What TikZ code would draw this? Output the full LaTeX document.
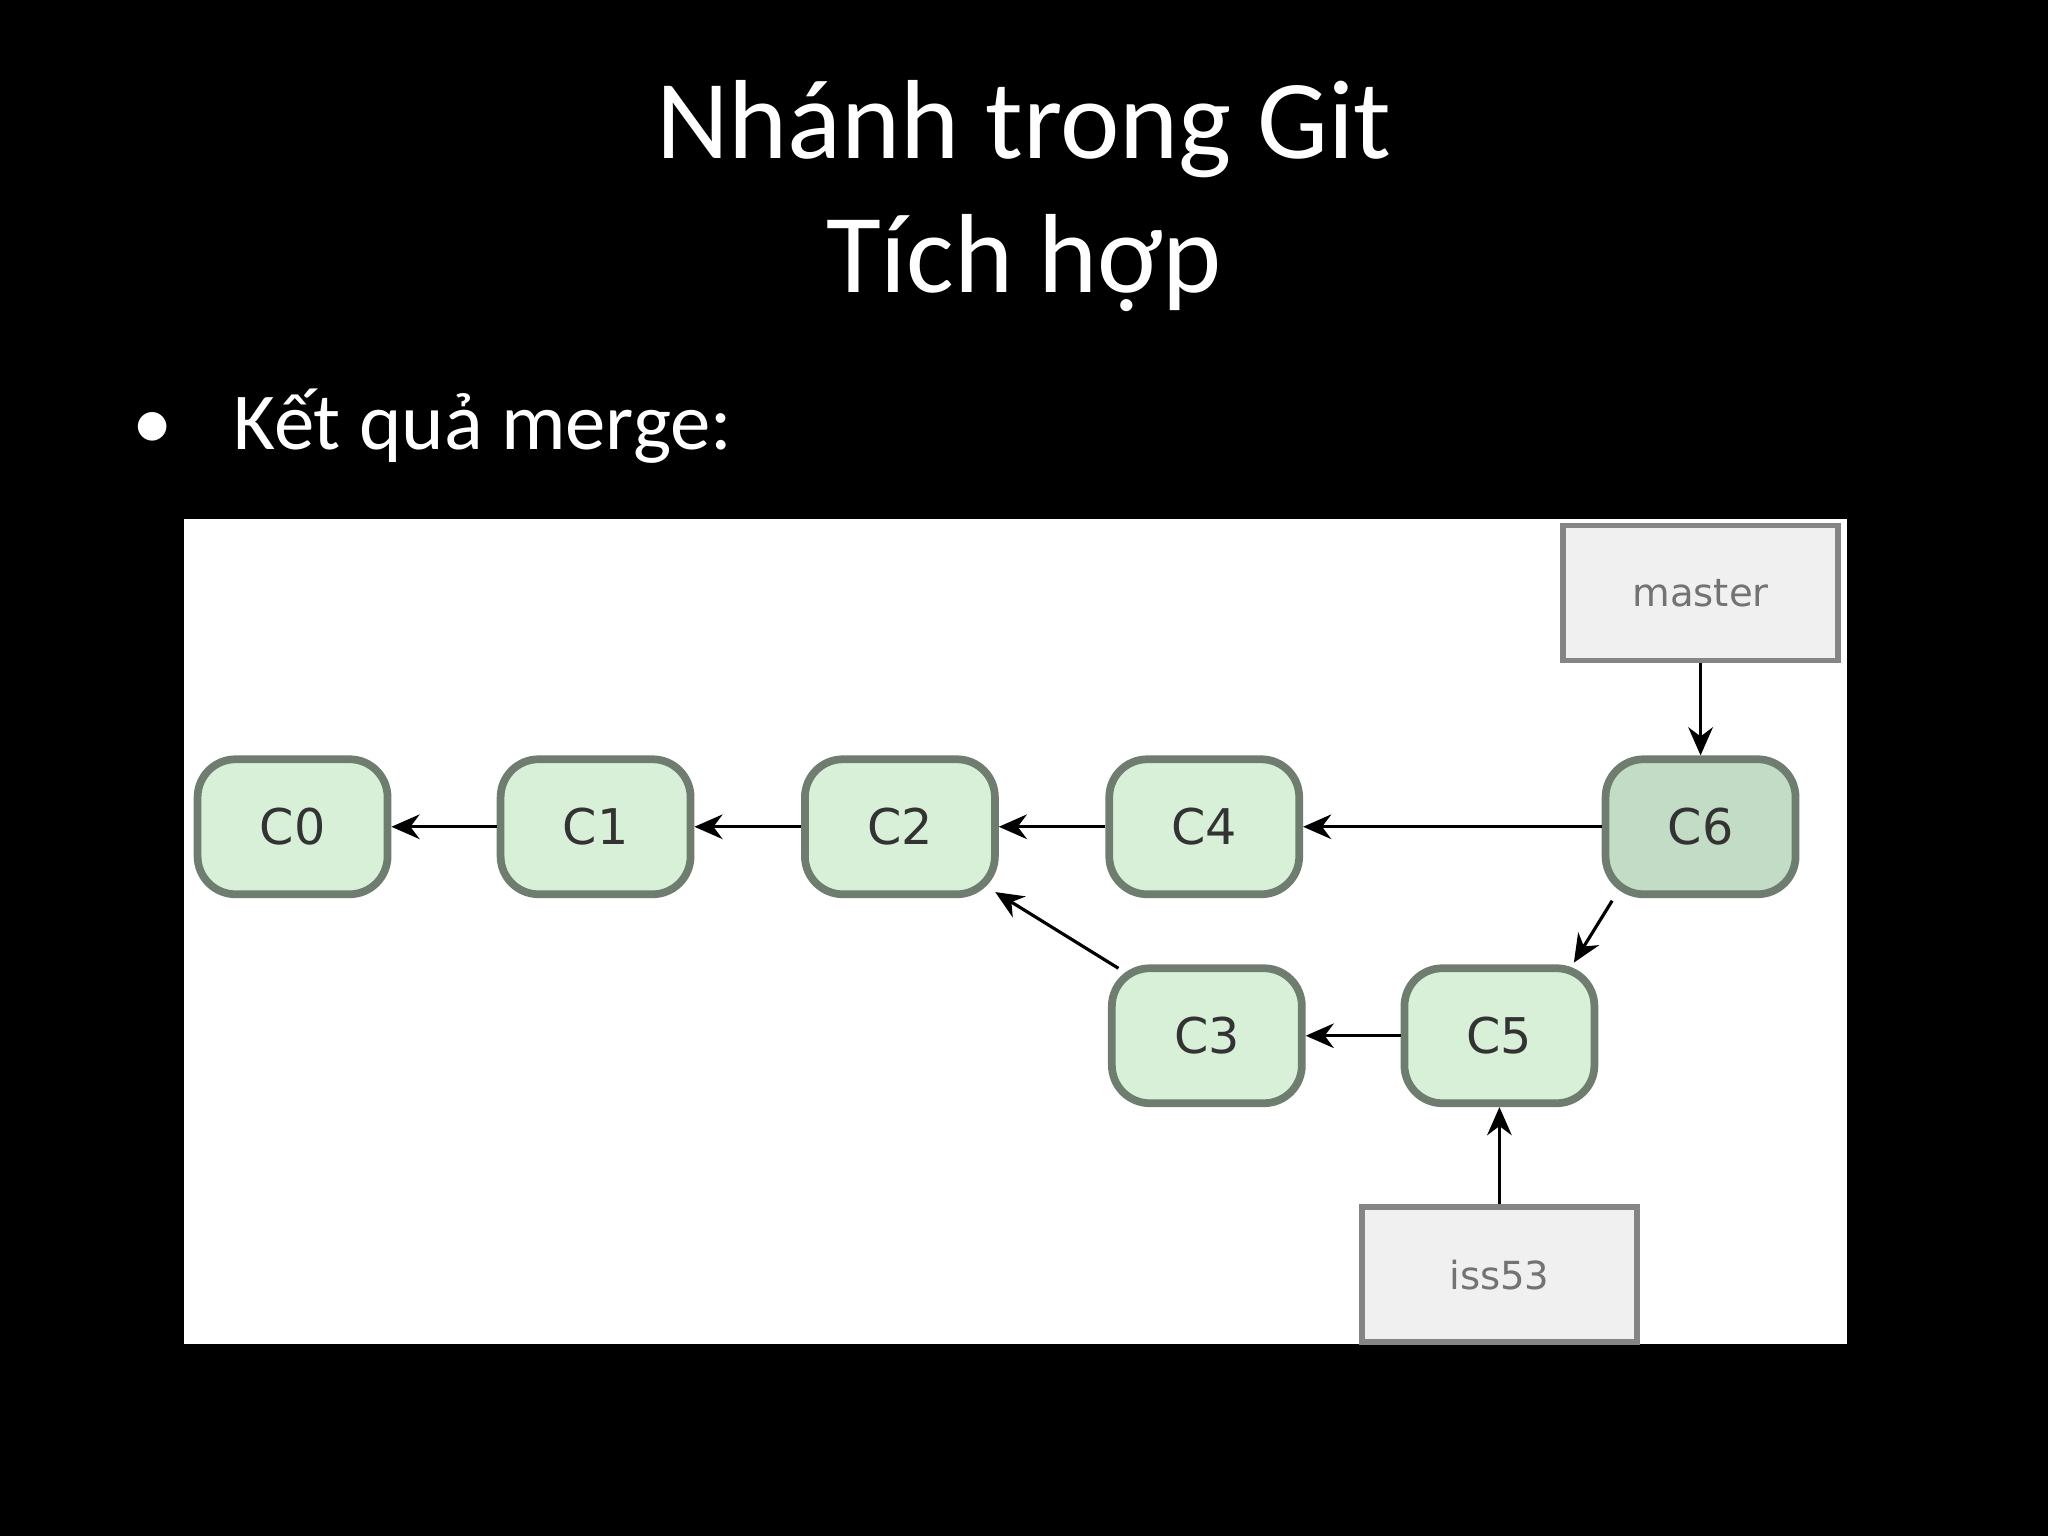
\documentclass[tikz,border=0pt]{standalone}
\usepackage{fontspec}
\setmainfont{Carlito}
\newfontfamily\nodefont{DejaVu Sans}
\usetikzlibrary{arrows.meta}
\definecolor{cfill}{HTML}{D8F0D8}
\definecolor{cfilld}{HTML}{C3DCC6}
\definecolor{cbord}{HTML}{6E7D6F}
\definecolor{bfill}{HTML}{F0F0F0}
\definecolor{bbord}{HTML}{858585}
\tikzset{
 commit/.style={draw=cbord,line width=2.2pt,fill=cfill,minimum width=1.9cm,minimum height=1.35cm,rounded corners=0.38cm,font=\nodefont\fontsize{14}{16}\selectfont,text=black!80},
 branch/.style={draw=bbord,line width=1.6pt,fill=bfill,minimum width=2.75cm,minimum height=1.35cm,font=\nodefont\fontsize{11}{13}\selectfont,text=black!55},
 arr/.style={-{Stealth[length=8pt,width=7pt]},line width=0.9pt,black},
}
\begin{document}
\begin{tikzpicture}[x=0.01306cm,y=-0.01306cm]
\fill[black] (0,0) rectangle (1568,1176);
\useasboundingbox (0,0) rectangle (1568,1176);
\node[text=white,font=\fontsize{32}{38}\selectfont,align=center] (title) at (784,150) {Nhánh trong Git\\Tích hợp};
\node[text=white,font=\fontsize{23}{27}\selectfont,anchor=west] (bul) at (92,326) {•\hspace{0.75em}Kết quả merge:};
\fill[white] (141,397) rectangle (1414,1029);
\node[commit] (c0) at (224,633) {C0};
\node[commit] (c1) at (456,633) {C1};
\node[commit] (c2) at (689,633) {C2};
\node[commit] (c4) at (922,633) {C4};
\node[commit,fill=cfilld] (c6) at (1302,633) {C6};
\node[commit] (c3) at (924,793) {C3};
\node[commit] (c5) at (1148,793) {C5};
\node[branch] (master) at (1302,454) {master};
\node[branch] (iss) at (1148,976) {iss53};
\draw[arr] (c1) -- (c0);
\draw[arr] (c2) -- (c1);
\draw[arr] (c4) -- (c2);
\draw[arr] (c6) -- (c4);
\draw[arr] (c5) -- (c3);
\draw[arr] (c3.north west) ++(8,3) -- (762,683);
\draw[arr] (c6.south west) ++(8,2) -- (1205,737);
\draw[arr] (master) -- (c6);
\draw[arr] (iss) -- (c5);
\end{tikzpicture}
\end{document}
